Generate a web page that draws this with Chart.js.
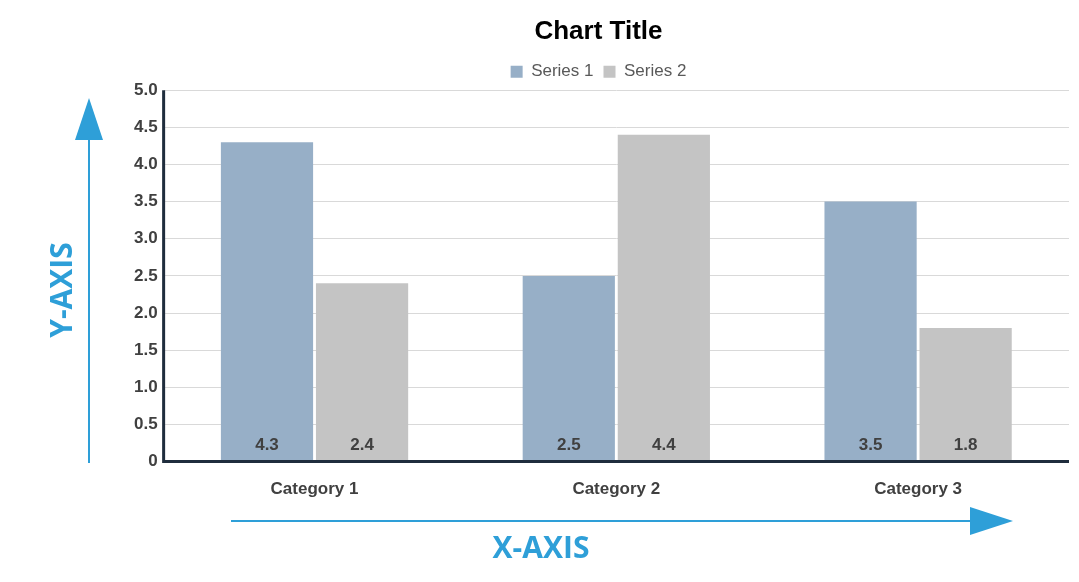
<!DOCTYPE html>
<html><head><meta charset="utf-8">
<script src="https://cdn.jsdelivr.net/npm/chart.js@4/dist/chart.umd.min.js"></script>
<style>html,body{margin:0;padding:0;background:#fff}#w{width:1079px;height:582px}</style>
</head><body><div id="w"><canvas id="c"></canvas></div>
<script>
const categories = ["Category 1","Category 2","Category 3"];
const series1 = [4.3,2.5,3.5];
const series2 = [2.4,4.4,1.8];
const seriesNames = ["Series 1","Series 2"];
const xAxisTitle = "X-AXIS";
const yAxisTitle = "Y-AXIS";
const blue = "#2E9FD8";

const deco = {
  id:'deco',
  afterDraw(chart){
    const ctx = chart.ctx, a = chart.chartArea;
    ctx.save();
    // data labels
    ctx.fillStyle = "#404040"; ctx.font = "bold 17px Arial, 'Liberation Sans'";
    ctx.textAlign = "center"; ctx.textBaseline = "middle";
    chart.data.datasets.forEach((ds,i)=>{
      chart.getDatasetMeta(i).data.forEach((b,j)=>{
        ctx.fillText(String(ds.data[j]), b.x, a.bottom - 16);
      });
    });
    // axes lines
    ctx.strokeStyle = "#1F2D3D"; ctx.lineWidth = 3;
    ctx.beginPath(); ctx.moveTo(a.left, a.top); ctx.lineTo(a.left, a.bottom); ctx.lineTo(a.right, a.bottom); ctx.stroke();
    // arrows
    ctx.strokeStyle = blue; ctx.fillStyle = blue; ctx.lineWidth = 2;
    ctx.beginPath(); ctx.moveTo(231,521); ctx.lineTo(975,521); ctx.stroke();
    ctx.beginPath(); ctx.moveTo(1013,521); ctx.lineTo(970,507); ctx.lineTo(970,535); ctx.closePath(); ctx.fill();
    ctx.beginPath(); ctx.moveTo(89,463); ctx.lineTo(89,135); ctx.stroke();
    ctx.beginPath(); ctx.moveTo(89,98); ctx.lineTo(75,140); ctx.lineTo(103,140); ctx.closePath(); ctx.fill();
    ctx.font = "bold 30px 'Open Sans', Lato, sans-serif";
    ctx.fillText(xAxisTitle, 541, 549);
    ctx.translate(63,290); ctx.rotate(-Math.PI/2); ctx.fillText(yAxisTitle, 0, 0);
    ctx.restore();
  }
};

new Chart(document.getElementById('c'), {
  type:'bar',
  data:{labels:categories, datasets:[
    {label:seriesNames[0], data:series1, backgroundColor:"#97AFC7"},
    {label:seriesNames[1], data:series2, backgroundColor:"#C4C4C4"}
  ]},
  options:{
    responsive:true, maintainAspectRatio:false, animation:false,
    categoryPercentage:0.63, barPercentage:0.97,
    layout:{padding:{left:128,right:10,top:8,bottom:72}},
    plugins:{
      title:{display:true,text:"Chart Title",color:"#000",font:{size:26,weight:'bold',family:"Arial, 'Liberation Sans'"},padding:{top:8,bottom:6}},
      legend:{labels:{boxWidth:12,boxHeight:12,color:"#595959",font:{size:17,family:"Arial, 'Liberation Sans'"},padding:10}},
      tooltip:{enabled:false}
    },
    scales:{
      x:{grid:{display:false},border:{display:false},ticks:{color:"#404040",font:{size:17,weight:'bold',family:"Arial, 'Liberation Sans'"},padding:10}},
      y:{min:0,max:5,ticks:{stepSize:0.5,color:"#404040",font:{size:17,weight:'bold',family:"Arial, 'Liberation Sans'"},padding:6},
         grid:{color:"#D9D9D9",drawTicks:false},border:{display:false}}
    }
  },
  plugins:[deco]
});
</script></body></html>
